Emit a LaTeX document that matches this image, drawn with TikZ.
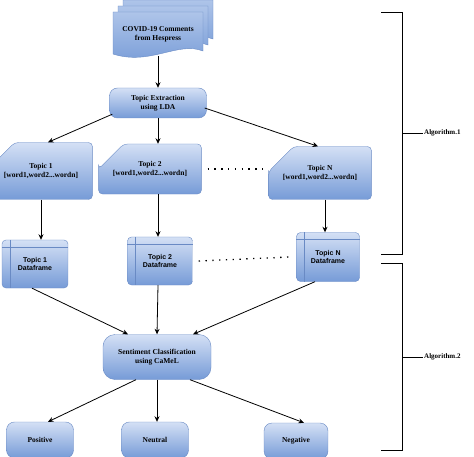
\documentclass[tikz,border=0pt]{standalone}
\usepackage{fontspec}
\setmainfont{Liberation Serif}
\newfontfamily\dfsans{Liberation Sans}
\usetikzlibrary{shapes.misc,arrows.meta}
\definecolor{box-blue}{RGB}{118,155,215}
\definecolor{box-mid}{RGB}{150,180,228}
\definecolor{box-light}{RGB}{212,224,245}
\definecolor{box-edge}{RGB}{105,138,196}
\tikzset{
    flow-box/.style = {rectangle, rounded corners=8pt, draw=box-edge, thin, top color=box-light, middle color=box-mid, bottom color=box-blue, align=center, font=\bfseries\fontsize{7.5}{9}\selectfont},
    topic-card/.style = {chamfered rectangle, chamfered rectangle corners=north west, chamfered rectangle xsep=14pt, chamfered rectangle ysep=14pt, rounded corners=4pt, draw=box-edge, thin, top color=box-light, bottom color=box-blue, align=center, font=\bfseries\fontsize{7.5}{9}\selectfont},
    frame-box/.style = {rectangle, rounded corners=4pt, draw=box-edge, thin, top color=box-light, bottom color=box-blue, align=center, font=\dfsans\bfseries\fontsize{7}{8.5}\selectfont},
    doc-sheet/.style = {draw=box-edge, thin, top color=box-light!60!box-blue, bottom color=box-blue},
    flow-arrow/.style = {-{Stealth[length=5.5pt,width=5pt]}, thick},
    dot-line/.style = {line width=1.3pt, dash pattern=on 1.3pt off 5.5pt},
    algo-label/.style = {anchor=west, inner sep=1pt, font=\bfseries\fontsize{7}{8}\selectfont},
}
\begin{document}
\begin{tikzpicture}[x=1pt,y=-1pt]
\useasboundingbox (0,0) rectangle (474,457);

% stack of comment sheets
\foreach \d in {10,5,0}{
    \path[doc-sheet] (113+\d,12-1.2*\d) -- (203+\d,12-1.2*\d) -- (203+\d,51-1.2*\d)
        .. controls (178+\d,41-1.2*\d) and (150+\d,66-1.2*\d) .. (113+\d,54-1.2*\d) -- cycle;
}
\node[align=center, font=\bfseries\fontsize{7.5}{9}\selectfont, minimum width=90pt, minimum height=44pt] (comments) at (158,34) {COVID-19 Comments\\from Hespress};

\node[flow-box, minimum width=97pt, minimum height=30pt] (lda) at (158,103) {Topic Extraction\\using LDA};

\node[topic-card, minimum width=82pt, minimum height=57pt] (t1) at (41,171) {Topic 1\\{}[word1,word2...wordn]};
\node[topic-card, minimum width=80pt, minimum height=48pt] (t2) at (150,169) {Topic 2\\{}[word1,word2...wordn]};
\node[topic-card, minimum width=81pt, minimum height=53pt] (tN) at (320,173) {Topic N\\{}[word1,word2...wordn]};

\node[frame-box, minimum width=66pt, minimum height=48pt] (df1) at (35,264) {Topic 1\\Dataframe};
\node[frame-box, minimum width=65pt, minimum height=48pt] (df2) at (160,261) {Topic 2\\Dataframe};
\node[frame-box, minimum width=63pt, minimum height=49pt] (dfN) at (328,257) {Topic N\\Dataframe};
\foreach \n in {df1,df2,dfN}{
    \draw[box-edge, thin] ([xshift=8pt]\n.north west) -- ([xshift=8pt]\n.south west);
    \draw[box-edge, thin] ([yshift=-7pt]\n.north west) -- ([yshift=-7pt]\n.north east);
}

\node[flow-box, rounded corners=12pt, minimum width=108pt, minimum height=45pt] (sent) at (157,357) {Sentiment Classification\\using CaMeL};

\node[flow-box, minimum width=67pt, minimum height=36pt] (pos) at (40,440) {Positive};
\node[flow-box, minimum width=67pt, minimum height=36pt] (neu) at (155,440) {Neutral};
\node[flow-box, minimum width=64pt, minimum height=36pt] (neg) at (296,441) {Negative};

% arrows
\draw[flow-arrow] (comments.south) -- (lda.north);
\draw[flow-arrow] ([xshift=3pt,yshift=4pt]lda.south west) -- ([xshift=7pt]t1.north);
\draw[flow-arrow] (lda.south) -- (lda.south |- t2.north);
\draw[flow-arrow] ([xshift=-2pt,yshift=-5pt]lda.east) -- ([xshift=-2pt]tN.north);
\draw[flow-arrow] (t1.south) -- (t1.south |- df1.north);
\draw[flow-arrow] (lda.south |- t2.south) -- (lda.south |- df2.north);
\draw[flow-arrow] ([xshift=5pt]tN.south) -- ([xshift=5pt]tN.south |- dfN.north);
\draw[flow-arrow] ([xshift=-3pt]df1.south) -- ([xshift=-29pt]sent.north);
\draw[flow-arrow] (lda.south |- df2.south) -- (sent.north);
\draw[flow-arrow] ([xshift=-13pt]dfN.south) -- ([xshift=36pt]sent.north);
\draw[flow-arrow] ([xshift=-21pt]sent.south) -- ([xshift=8pt]pos.north);
\draw[flow-arrow] (sent.south) -- (sent.south |- neu.north);
\draw[flow-arrow] ([xshift=33pt]sent.south) -- ([xshift=8pt]neg.north);

% dotted gaps
\draw[dot-line] ([xshift=6pt]t2.east) -- ([xshift=-4pt]t2.east -| tN.west);
\draw[dot-line] ([xshift=6pt]df2.east) -- ([xshift=-7pt]dfN.west);

% brackets
\draw[thick] (381,12) -- (402,12) -- (402,254) -- (381,254);
\node[algo-label] (alg1) at (423,133) {Algorithm.1};
\draw[thick] (402,133) -- (alg1.west);
\draw[thick] (381,263) -- (402,263) -- (402,450) -- (381,450);
\node[algo-label] (alg2) at (423,357) {Algorithm.2};
\draw[thick] (402,357) -- (alg2.west);
\end{tikzpicture}
\end{document}
